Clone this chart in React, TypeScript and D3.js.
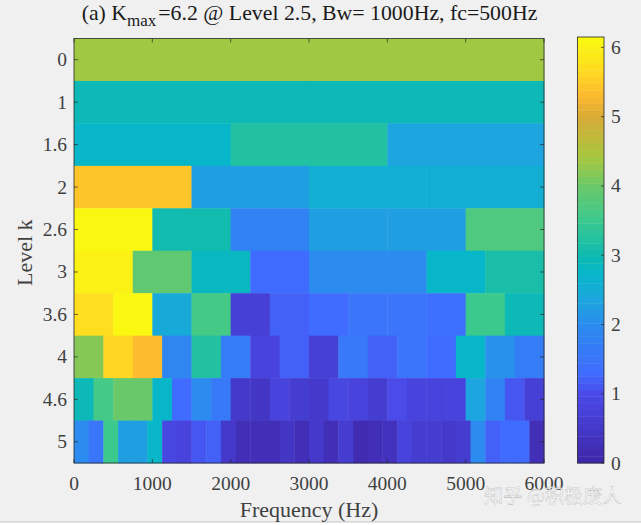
import React, { useRef, useEffect } from 'react';
import * as d3 from 'd3';

const width = 641;
const height = 525;
const serif = '"Liberation Serif", "Times New Roman", serif';

const levelLabels = ['0', '1', '1.6', '2', '2.6', '3', '3.6', '4', '4.6', '5'];
const xTicks = [0, 1000, 2000, 3000, 4000, 5000, 6000];
const colorTicks = [0, 1, 2, 3, 4, 5, 6];

// Kurtosis per frequency band, one array per decomposition level
const level0 = [4.4];
const level1 = [2.9, 2.9];
const level16 = [2.75, 3.2, 2.35];
const level2 = [5.45, 2.3, 2.55, 2.55];
const level26 = [6.2, 3.0, 1.8, 2.3, 2.3, 3.7];
const level3 = [6.05, 3.85, 2.85, 1.25, 2.0, 1.95, 2.75, 3.1];
const level36 = [5.75, 6.2, 2.45, 3.6, 0.7, 1.2, 1.25, 1.45, 1.5, 1.35, 3.55, 2.9];
const level4 = [4.2, 5.65, 5.3, 1.85, 3.2, 1.7, 0.85, 1.2, 0.75, 1.55, 1.2, 1.45, 1.3, 2.75, 2.1, 1.65];
const level46 = [
  2.95, 3.65, 3.95, 3.95, 2.75, 1.3, 1.95, 1.55, 0.55, 0.45, 0.85, 0.6,
  0.55, 0.95, 0.85, 0.65, 1.05, 0.85, 0.85, 0.85, 2.35, 1.75, 1.15, 0.7,
];
const level5 = [
  2.0, 1.45, 3.5, 2.3, 2.3, 2.75, 0.95, 0.85, 1.15, 1.2, 0.55, 0.2, 0.2, 0.2, 0.4, 0.2,
  0.5, 0.2, 0.6, 0.15, 0.2, 0.35, 0.8, 0.65, 0.6, 0.5, 0.65, 2.0, 1.2, 1.3, 1.3, 0.2,
];
const rows = [level0, level1, level16, level2, level26, level3, level36, level4, level46, level5];

// Colormap stops
const parulaStops = [0, 1, 1.3, 2, 2.4, 2.75, 3, 3.5, 4, 4.4, 5, 5.3, 5.7, 6.15];
const parulaColors = [
  '#3e26a8', '#4a4ae8', '#3f6cff', '#2b8cee', '#1aa8dc', '#06b6c8', '#0fbab0', '#3bc98f',
  '#6ac868', '#a5c840', '#d9ab35', '#fdb930', '#ffdd20', '#f9fb0e',
];
const maxValue = 6.15;

const App: React.FC = () => {
  const svgRef = useRef<SVGSVGElement>(null);

  useEffect(() => {
    if (!svgRef.current) return;

    const svg = d3.select(svgRef.current);
    svg.selectAll('*').remove();

    const plot = { left: 74, right: 544, top: 38.5, bottom: 463 };
    const bar = { left: 577.5, right: 604, top: 37, bottom: 463 };

    const x = d3.scaleLinear().domain([0, 6000]).range([plot.left, plot.right]);
    const y = d3.scaleBand().domain(levelLabels).range([plot.top, plot.bottom]);
    const colorY = d3.scaleLinear().domain([0, maxValue]).range([bar.bottom, bar.top]);

    const ramp = d3.scaleLinear<string>().domain(parulaStops).range(parulaColors).clamp(true);
    // 64 flat levels like a figure colormap
    const color = (v: number) => ramp(((Math.min(Math.floor((v / maxValue) * 64), 63) + 0.5) / 64) * maxValue);

    svg.append('rect').attr('width', width).attr('height', height).attr('fill', '#f0f0f0');
    svg.append('rect').attr('y', 522).attr('width', width).attr('height', 3).attr('fill', '#ffffff');
    svg.append('line').attr('x1', 0).attr('x2', width).attr('y1', 522).attr('y2', 522).attr('stroke', '#c4c4c4');

    // Cells
    rows.forEach((values, r) => {
      const step = 6000 / values.length;
      svg
        .append('g')
        .selectAll('rect')
        .data(values)
        .enter()
        .append('rect')
        .attr('x', (_, i) => x(i * step))
        .attr('y', y(levelLabels[r]) || 0)
        .attr('width', x(step) - x(0) + 0.4)
        .attr('height', y.bandwidth() + 0.4)
        .attr('fill', d => color(d));
    });

    const axisColor = '#262626';
    const textColor = '#404040';

    svg
      .append('rect')
      .attr('x', plot.left)
      .attr('y', plot.top)
      .attr('width', plot.right - plot.left)
      .attr('height', plot.bottom - plot.top)
      .attr('fill', 'none')
      .attr('stroke', axisColor)
      .attr('stroke-width', 0.8);

    // X ticks, inward on both sides
    xTicks.forEach(t => {
      svg.append('line').attr('x1', x(t)).attr('x2', x(t)).attr('y1', plot.bottom).attr('y2', plot.bottom - 4).attr('stroke', axisColor).attr('stroke-width', 0.7);
      svg.append('line').attr('x1', x(t)).attr('x2', x(t)).attr('y1', plot.top).attr('y2', plot.top + 4).attr('stroke', axisColor).attr('stroke-width', 0.7);
      svg
        .append('text')
        .attr('x', x(t))
        .attr('y', 490)
        .attr('text-anchor', 'middle')
        .attr('font-family', serif)
        .attr('font-size', 19.5)
        .attr('fill', textColor)
        .text(t);
    });

    // Y ticks, one per level
    levelLabels.forEach(l => {
      const cy = (y(l) || 0) + y.bandwidth() / 2;
      svg.append('line').attr('x1', plot.left).attr('x2', plot.left + 4).attr('y1', cy).attr('y2', cy).attr('stroke', axisColor).attr('stroke-width', 0.7);
      svg.append('line').attr('x1', plot.right).attr('x2', plot.right - 4).attr('y1', cy).attr('y2', cy).attr('stroke', axisColor).attr('stroke-width', 0.7);
      svg
        .append('text')
        .attr('x', plot.left - 7)
        .attr('y', cy + 6.5)
        .attr('text-anchor', 'end')
        .attr('font-family', serif)
        .attr('font-size', 19.5)
        .attr('fill', textColor)
        .text(l);
    });

    svg
      .append('text')
      .attr('x', (plot.left + plot.right) / 2)
      .attr('y', 517)
      .attr('text-anchor', 'middle')
      .attr('font-family', serif)
      .attr('font-size', 22)
      .attr('fill', textColor)
      .text('Frequency (Hz)');

    svg
      .append('text')
      .attr('transform', `translate(32, ${(plot.top + plot.bottom) / 2 + 2}) rotate(-90)`)
      .attr('text-anchor', 'middle')
      .attr('font-family', serif)
      .attr('font-size', 22)
      .attr('fill', textColor)
      .text('Level k');

    // Title with the subscript
    const title = svg
      .append('text')
      .attr('x', 309.5)
      .attr('y', 20)
      .attr('text-anchor', 'middle')
      .attr('font-family', serif)
      .attr('font-size', 21.8)
      .attr('fill', '#1a1a1a');
    title.append('tspan').text('(a) K');
    title.append('tspan').attr('dy', 6).attr('font-size', 17).text('max');
    title.append('tspan').attr('dy', -6).attr('dx', 2).text('=6.2 @ Level 2.5, Bw= 1000Hz, fc=500Hz');

    // Colorbar
    const levels = d3.range(64);
    svg
      .append('g')
      .selectAll('rect')
      .data(levels)
      .enter()
      .append('rect')
      .attr('x', bar.left)
      .attr('width', bar.right - bar.left)
      .attr('y', d => colorY(((d + 1) / 64) * maxValue))
      .attr('height', (bar.bottom - bar.top) / 64 + 0.4)
      .attr('fill', d => color(((d + 0.5) / 64) * maxValue));
    svg
      .append('rect')
      .attr('x', bar.left)
      .attr('y', bar.top)
      .attr('width', bar.right - bar.left)
      .attr('height', bar.bottom - bar.top)
      .attr('fill', 'none')
      .attr('stroke', axisColor)
      .attr('stroke-width', 0.8);

    colorTicks.forEach(t => {
      svg.append('line').attr('x1', bar.right).attr('x2', bar.right - 3).attr('y1', colorY(t)).attr('y2', colorY(t)).attr('stroke', axisColor).attr('stroke-width', 0.7);
      svg
        .append('text')
        .attr('x', 611)
        .attr('y', colorY(t) + 6.5)
        .attr('font-family', serif)
        .attr('font-size', 19.5)
        .attr('fill', textColor)
        .text(t);
    });

    // Site watermark
    svg
      .append('text')
      .attr('x', 484)
      .attr('y', 503)
      .attr('font-family', '"Noto Sans CJK SC", sans-serif')
      .attr('font-size', 19.2)
      .attr('fill', '#ffffff')
      .attr('fill-opacity', 0.8)
      .attr('stroke', '#a8a8a8')
      .attr('stroke-width', 0.3)
      .text('知乎 @积极废人');
  }, []);

  return <svg ref={svgRef} width={width} height={height} style={{ position: 'absolute', left: 0, top: 0 }} />;
};

export default App;
